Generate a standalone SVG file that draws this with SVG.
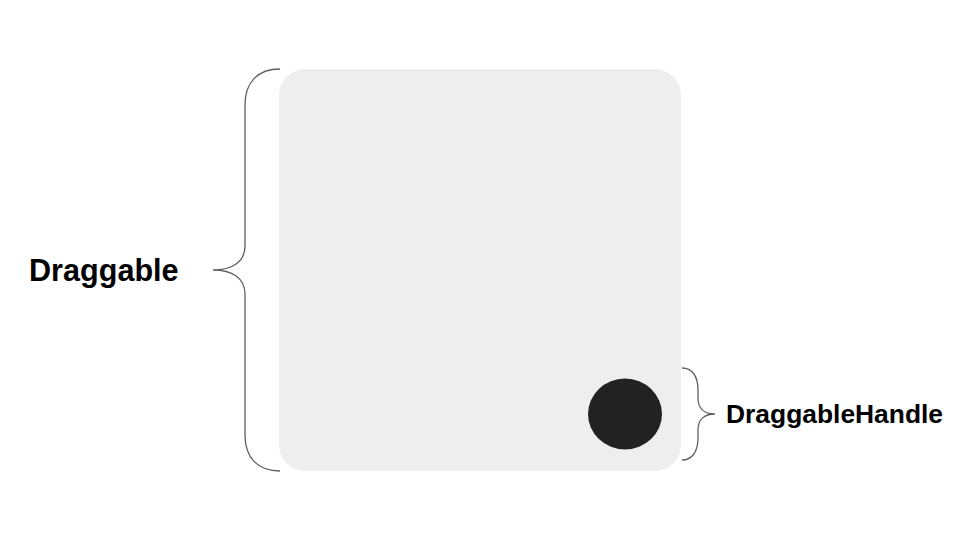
<svg xmlns="http://www.w3.org/2000/svg" width="960" height="540" viewBox="0 0 960 540">
<style>
.brace{fill:none;stroke:#5f5f5f;stroke-width:1.3}
.lbl{font-family:"Liberation Sans",Arial,sans-serif;font-weight:bold;fill:#000}
</style>
<rect width="960" height="540" fill="#fff"/>
<g id="draggable">
<rect x="279" y="69" width="402" height="402" rx="26" fill="#eeeeee"/>
</g>
<g id="handle">
<ellipse cx="625" cy="414" rx="37" ry="35.5" fill="#222222"/>
</g>
<g id="connectors">
<path class="brace" d="M280,69 C258,69 245,82 245,105 L245,246 C245,262 232,270 213,270 C232,270 245,278 245,294 L245,435 C245,458 258,471 280,471"/>
<path class="brace" d="M682,368 C692,368 698,376 698,390 L698,398 C698,408 704,414 715,414 C704,414 698,420 698,430 L698,438 C698,452 692,460 682,460"/>
</g>
<g id="label-draggable">
<text class="lbl" x="29" y="281" font-size="30.6">Draggable</text>
</g>
<g id="label-handle">
<text class="lbl" x="726" y="423" font-size="26.4">DraggableHandle</text>
</g>
</svg>
